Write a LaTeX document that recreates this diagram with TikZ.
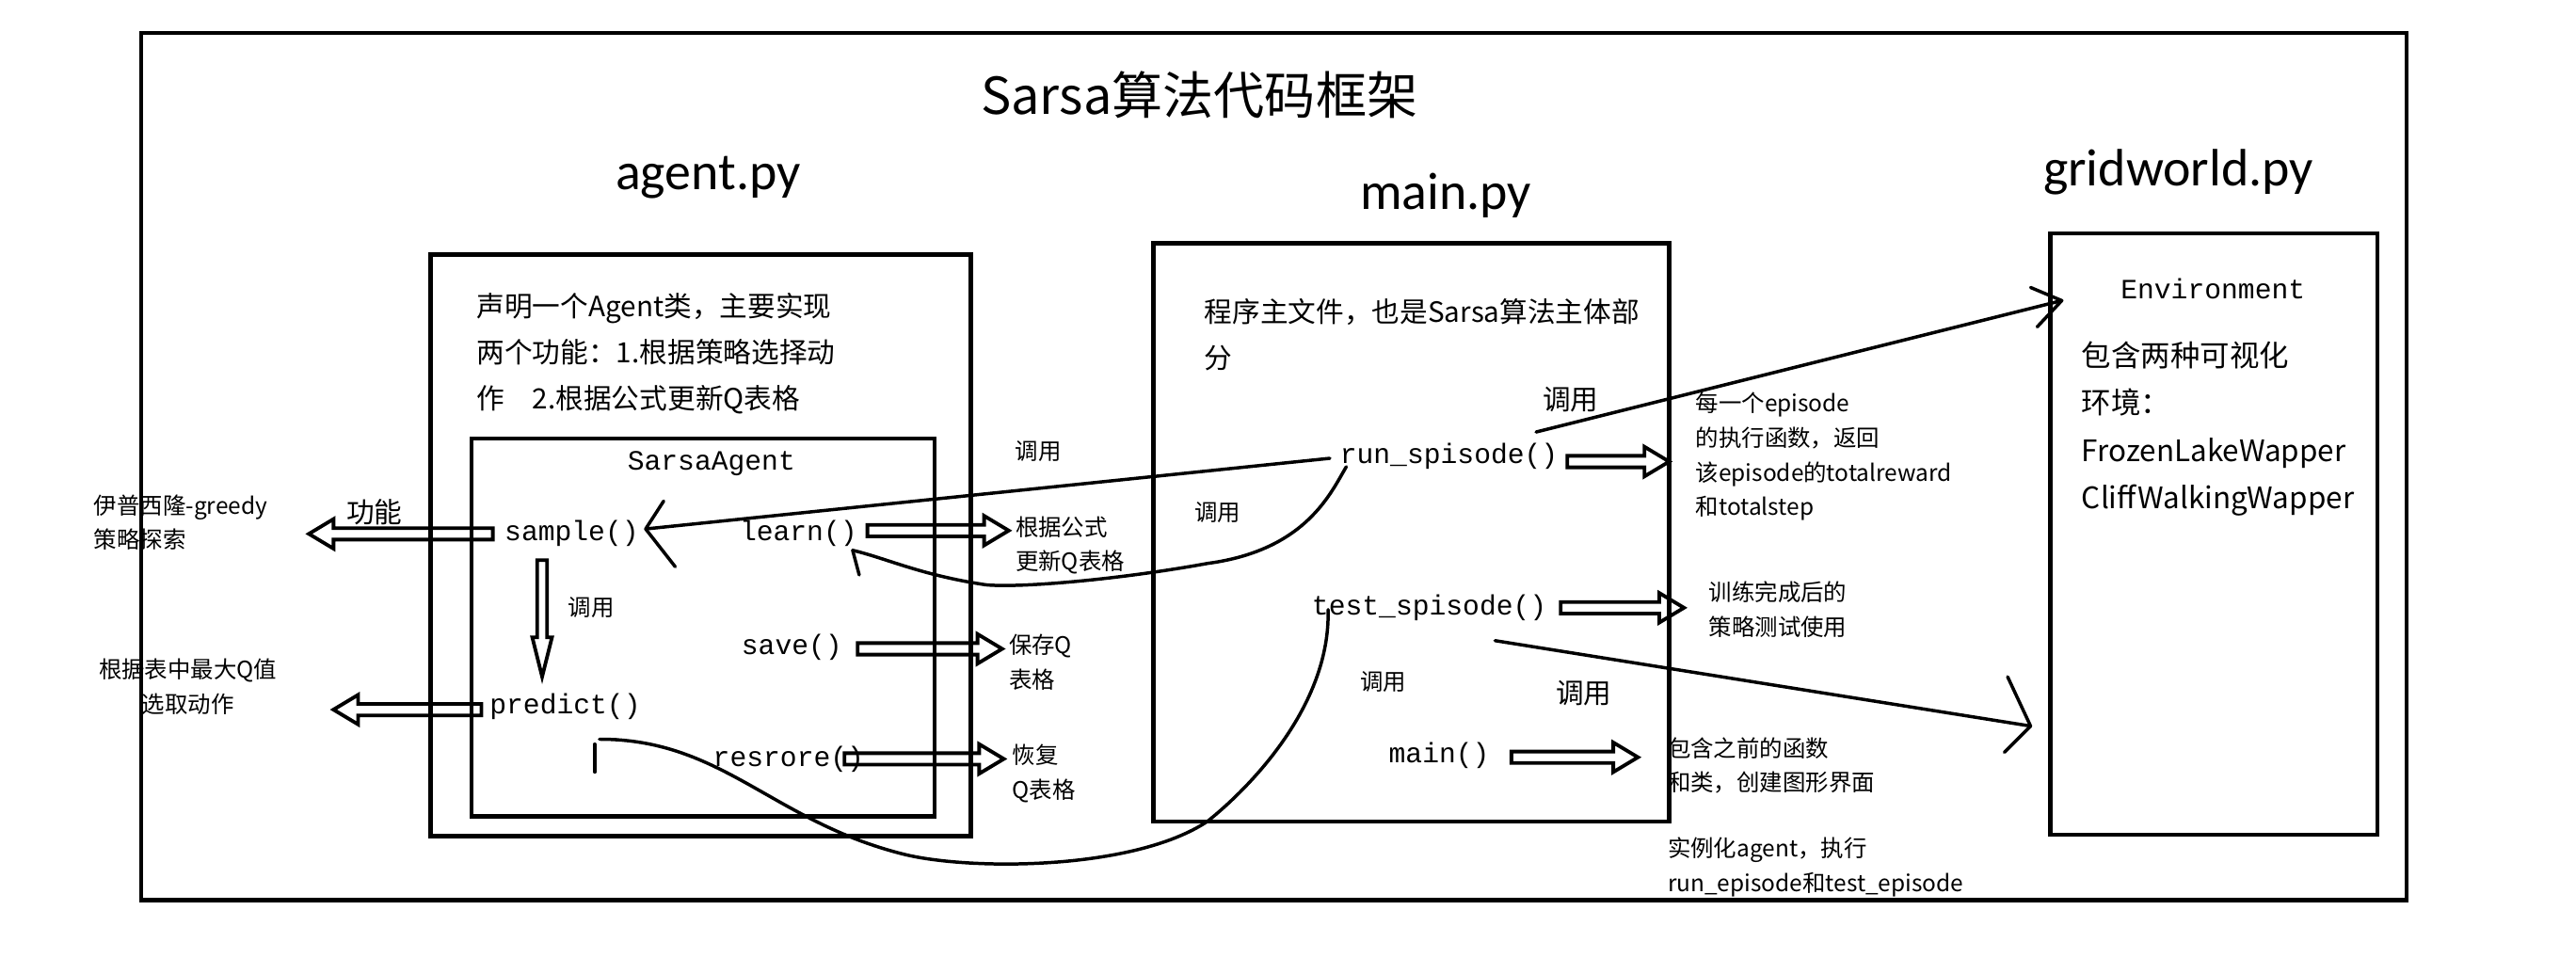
\documentclass[tikz,border=0pt]{standalone}
\usepackage{fontspec}
\setmainfont{Noto Sans CJK SC}
\newfontfamily\cjk{Noto Sans CJK SC}
\newfontfamily\codef{Liberation Mono}
\newfontfamily\pyf{Carlito}
\newcommand\harrow[3]{% x1 x2 y
  \pgfmathsetmacro\hs{#2>#1 ? 1 : -1}
  \pgfmathsetmacro\hb{#2-\hs*15}
  \draw[line width=2.2pt] (#1,#3-3.5) -- (\hb,#3-3.5) -- (\hb,#3-9) -- (#2,#3) -- (\hb,#3+9) -- (\hb,#3+3.5) -- (#1,#3+3.5) -- cycle;}
\begin{document}
\begin{tikzpicture}[x=1pt,y=-1pt,
  box/.style={draw,line width=2.5pt},
  code/.style={font=\codef\fontsize{17}{17}\selectfont,inner sep=0pt},
  note/.style={font=\cjk\fontsize{14}{21}\selectfont,inner sep=0pt,align=left,anchor=west},
  desc/.style={font=\cjk\fontsize{17}{28}\selectfont,inner sep=0pt,align=left,anchor=west},
  pyname/.style={font=\pyf\fontsize{32}{32}\selectfont,inner sep=0pt},
  call/.style={font=\cjk\fontsize{14}{14}\selectfont,inner sep=0pt},
  pen/.style={line width=2pt,line cap=round,line join=round}]
\useasboundingbox[fill=white] (0,0) rectangle (1568,583);
\draw[box] (86,20) rectangle (1465,548);
\node[font=\cjk\fontsize{31}{31}\selectfont,inner sep=0pt] (title) at (730,58) {Sarsa算法代码框架};
\node[pyname] (agentpy) at (431,108) {agent.py};
\node[pyname] (mainpy) at (880,119) {main.py};
\node[pyname] (gridpy) at (1326,105) {gridworld.py};
% agent
\draw[box] (262,155) rectangle (591,509);
\draw[box] (287,267) rectangle (569,497);
\node[desc] (adesc) at (290,215) {声明一个Agent类，主要实现\\两个功能：1.根据策略选择动\\作\quad 2.根据公式更新Q表格};
\node[code] (sa) at (433,282) {SarsaAgent};
\node[code] (sample) at (348,325) {sample()};
\node[code] (learn) at (486,325) {learn()};
\node[code] (save) at (482,394) {save()};
\node[code] (predict) at (344,430) {predict()};
\node[code] (resrore) at (480,462) {resrore()};
% main
\draw[box] (702,148) rectangle (1016,500);
\node[desc] (mdesc) at (733,204) {程序主文件，也是Sarsa算法主体部\\分};
\node[code] (run) at (882,278) {run\_spisode()};
\node[code] (test) at (870,370) {test\_spisode()};
\node[code] (mainf) at (876,460) {main()};
% env
\draw[box] (1248,142) rectangle (1447,508);
\node[code] (env) at (1347,176) {Environment};
\node[desc,font=\cjk\fontsize{18}{29}\selectfont] (edesc) at (1267,261) {包含两种可视化\\环境：\\FrozenLakeWapper\\CliffWalkingWapper};
% notes
\node[note] (n1) at (1032,278) {每一个episode\\的执行函数，返回\\该episode的totalreward\\和totalstep};
\node[note] (n2) at (1040,371) {训练完成后的\\策略测试使用};
\node[note] (n3) at (1015,466) {包含之前的函数\\和类，创建图形界面};
\node[note] (n4) at (1015,528) {实例化agent，执行\\run\_episode和test\_episode};
\node[note] (n5) at (618,332) {根据公式\\更新Q表格};
\node[note] (n6) at (614,403) {保存Q\\表格};
\node[note] (n7) at (616,471) {恢复\\Q表格};
\node[note] (n8) at (57,318) {伊普西隆-greedy\\策略探索};
\node[note,align=center] (n9) at (60,418) {根据表中最大Q值\\选取动作};
\node[call,font=\cjk\fontsize{17}{17}\selectfont] (gn) at (228,312) {功能};
\node[call] (c1) at (632,275) {调用};
\node[call] (c2) at (741,312) {调用};
\node[call] (c3) at (360,370) {调用};
\node[call,font=\cjk\fontsize{17}{17}\selectfont] (c4) at (956,243) {调用};
\node[call] (c5) at (842,415) {调用};
\node[call,font=\cjk\fontsize{17}{17}\selectfont] (c6) at (964,422) {调用};
% block arrows
\harrow{300}{188}{325}
\harrow{293}{203}{432}
\harrow{528}{614}{323}
\harrow{522}{610}{395}
\harrow{514}{611}{462}
\harrow{954}{1016}{281}
\harrow{950}{1025}{370}
\harrow{920}{997}{461}
\draw[line width=2.2pt] (327,341) -- (327,388) -- (324,388) -- (330,412) -- (336,388) -- (333,388) -- (333,341) -- cycle;
% hand drawn connectors
\coordinate (tipS) at (393,322);
\draw[pen] (run.west) ++(-6,1) -- (tipS);
\draw[pen] (404,305) -- (tipS) -- (411,345);
\coordinate (tipE) at (1255,183);
\draw[pen] (935,263) -- (tipE);
\draw[pen] (1236,175) -- (tipE) -- (1240,199);
\coordinate (tipT) at (1236,442);
\draw[pen] (910,390) -- (tipT);
\draw[pen] (1222,412) -- (tipT) -- (1220,458);
\coordinate (tipL) at (519,335);
\draw[pen] (run.south west) ++(4,-2) .. controls (810,300) and (795,335) .. (735,343) .. controls (680,353) and (620,358) .. (600,356) .. controls (560,350) and (540,340) .. (tipL);
\draw[pen] (523,350) -- (tipL);
\coordinate (tipP) at (365,450);
\draw[pen] (test.south west) ++(10,-7) .. controls (810,430) and (760,480) .. (735,500) .. controls (690,530) and (590,530) .. (550,520) .. controls (470,500) and (440,450) .. (tipP);
\draw[pen] (tipP) -- (375,450);
\draw[pen] (tipP) ++(-3,3) -- (362,470);
\end{tikzpicture}
\end{document}
